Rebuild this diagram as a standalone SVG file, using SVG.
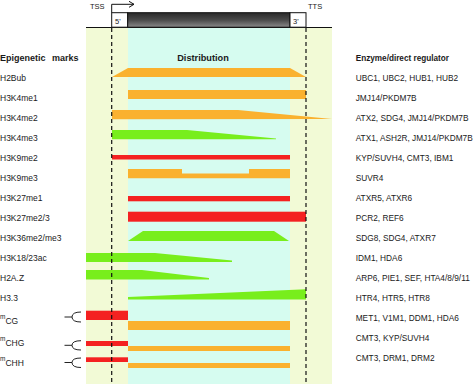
<svg xmlns="http://www.w3.org/2000/svg" width="474" height="384" viewBox="0 0 474 384">
<defs>
<linearGradient id="gb" x1="0" y1="0" x2="0" y2="1">
<stop offset="0" stop-color="#2a2a2a"/>
<stop offset="0.5" stop-color="#4a4a4a"/>
<stop offset="1" stop-color="#8a8a8a"/>
</linearGradient>
<marker id="ah" markerWidth="8" markerHeight="8" refX="6" refY="4" orient="auto" markerUnits="userSpaceOnUse">
<path d="M1,1 L6,4 L1,7" fill="none" stroke="#111" stroke-width="1"/>
</marker>
</defs>
<style>
text{font-family:"Liberation Sans",Arial,sans-serif;fill:#1a1a1a}
.lab{font-size:8.5px}
.rt{font-size:8.3px}
.hd{font-weight:bold}
.sm{font-size:7.5px}
.o{fill:#FAB12F}
.g{fill:#78EE1C}
.r{fill:#F42121}
.dash{stroke:#111;stroke-width:1.2;stroke-dasharray:4,3;fill:none}
.me{stroke:#222;stroke-width:1;fill:none}
</style>
<rect width="474" height="384" fill="#fff"/>
<rect x="86" y="27" width="246" height="357" fill="#F2FAD6"/>
<rect x="128" y="27" width="162" height="357" fill="#D6FCF0"/>
<g id="gene">
<line x1="86" y1="27.5" x2="332" y2="27.5" stroke="#111" stroke-width="1"/>
<rect x="111.7" y="12.7" width="16" height="14.5" fill="#fff" stroke="#111" stroke-width="1"/>
<rect x="127.7" y="12.7" width="162.3" height="14.5" fill="url(#gb)" stroke="#111" stroke-width="1"/>
<rect x="290" y="12.7" width="16" height="14.5" fill="#fff" stroke="#111" stroke-width="1"/>
<text x="115" y="23.5" class="sm">5'</text>
<text x="293" y="23.5" class="sm">3'</text>
<text x="90" y="8.5" class="sm">TSS</text>
<text x="308" y="8.5" class="sm">TTS</text>
</g>
<g id="connectors">
<path d="M111.7,12.7 V4.3 H134" fill="none" stroke="#111" stroke-width="1" marker-end="url(#ah)"/>
</g>
<text x="0" y="60.5" class="hd" font-size="9" word-spacing="4">Epigenetic marks</text>
<text x="203" y="60.5" class="hd" font-size="9.2" text-anchor="middle">Distribution</text>
<text x="355.7" y="60.5" class="hd" font-size="8.2">Enzyme/direct regulator</text>
<g id="H2Bub"><text x="0" y="81" class="lab">H2Bub</text><polygon class="o" points="112,77 128,68 290,68 306,77"/><text x="355.7" y="81" class="rt">UBC1, UBC2, HUB1, HUB2</text></g>
<g id="H3K4me1"><text x="0" y="101" class="lab">H3K4me1</text><rect class="o" x="128" y="90" width="178" height="9"/><text x="355.7" y="101" class="rt">JMJ14/PKDM7B</text></g>
<g id="H3K4me2"><text x="0" y="121" class="lab">H3K4me2</text><polygon class="o" points="112,110 238,110 332,119 112,119.3"/><text x="355.7" y="121" class="rt">ATX2, SDG4, JMJ14/PKDM7B</text></g>
<g id="H3K4me3"><text x="0" y="141" class="lab">H3K4me3</text><polygon class="g" points="112,130 187,130 276,138.5 276,139.2 112,139.2"/><text x="355.7" y="141" class="rt" textLength="117" lengthAdjust="spacingAndGlyphs">ATX1, ASH2R, JMJ14/PKDM7B</text></g>
<g id="H3K9me2"><text x="0" y="161" class="lab">H3K9me2</text><rect class="r" x="112" y="155" width="178" height="4.5"/><text x="355.7" y="161" class="rt">KYP/SUVH4, CMT3, IBM1</text></g>
<g id="H3K9me3"><text x="0" y="181" class="lab">H3K9me3</text><polygon class="o" points="128,169 182,169 182,173.5 249,173.5 249,169 290,169 290,178.3 128,178.3"/><text x="355.7" y="181" class="rt">SUVR4</text></g>
<g id="H3K27me1"><text x="0" y="201" class="lab">H3K27me1</text><rect class="r" x="128" y="196" width="162" height="5.3"/><text x="355.7" y="201" class="rt">ATXR5, ATXR6</text></g>
<g id="H3K27me23"><text x="0" y="221" class="lab">H3K27me2/3</text><rect class="r" x="128" y="211.7" width="178" height="10"/><text x="355.7" y="221" class="rt">PCR2, REF6</text></g>
<g id="H3K36"><text x="0" y="241" class="lab">H3K36me2/me3</text><polygon class="g" points="128,241 143,231 274,231 289,241"/><text x="355.7" y="241" class="rt">SDG8, SDG4, ATXR7</text></g>
<g id="H3K18"><text x="0" y="261" class="lab">H3K18/23ac</text><polygon class="g" points="86,253 155,253 232,260.5 232,262 86,262"/><text x="355.7" y="261" class="rt">IDM1, HDA6</text></g>
<g id="H2AZ"><text x="0" y="281" class="lab">H2A.Z</text><polygon class="g" points="86,270 142,270 209,278 209,279.5 86,279.5"/><text x="355.7" y="281" class="rt">ARP6, PIE1, SEF, HTA4/8/9/11</text></g>
<g id="H33"><text x="0" y="301" class="lab">H3.3</text><polygon class="g" points="128,297 306,289.3 306,299.5 128,299.5"/><text x="355.7" y="301" class="rt">HTR4, HTR5, HTR8</text></g>
<g id="mCG"><text x="0" y="324" class="lab"><tspan font-size="6.5" dy="-5">m</tspan><tspan dy="5">CG</tspan></text>
<path class="me" d="M64.5,317 H72 M81,312 Q72,312 72,317 Q72,322 81,322"/>
<rect class="r" x="86" y="310.7" width="42" height="9.3"/><rect class="o" x="128" y="321" width="162" height="9"/><text x="355.7" y="321" class="rt">MET1, V1M1, DDM1, HDA6</text></g>
<g id="mCHG"><text x="0" y="346" class="lab"><tspan font-size="6.5" dy="-5">m</tspan><tspan dy="5">CHG</tspan></text>
<path class="me" d="M64.5,345.3 H72 M81,340.7 Q72,340.7 72,345.3 Q72,350 81,350"/>
<rect class="r" x="86" y="341" width="42" height="5"/><rect class="o" x="128" y="346" width="162" height="5"/><text x="355.7" y="341" class="rt">CMT3, KYP/SUVH4</text></g>
<g id="mCHH"><text x="0" y="365.5" class="lab"><tspan font-size="6.5" dy="-5">m</tspan><tspan dy="5">CHH</tspan></text>
<path class="me" d="M64.5,362.5 H72 M81,358 Q72,358 72,362.5 Q72,367.5 81,367.5"/>
<rect class="r" x="86" y="357.3" width="42" height="4.7"/><rect class="o" x="128" y="363" width="162" height="5"/><text x="355.7" y="361" class="rt">CMT3, DRM1, DRM2</text></g>
<line class="dash" x1="111.7" y1="28" x2="111.7" y2="384"/>
<line class="dash" x1="306" y1="28" x2="306" y2="384"/>
</svg>
